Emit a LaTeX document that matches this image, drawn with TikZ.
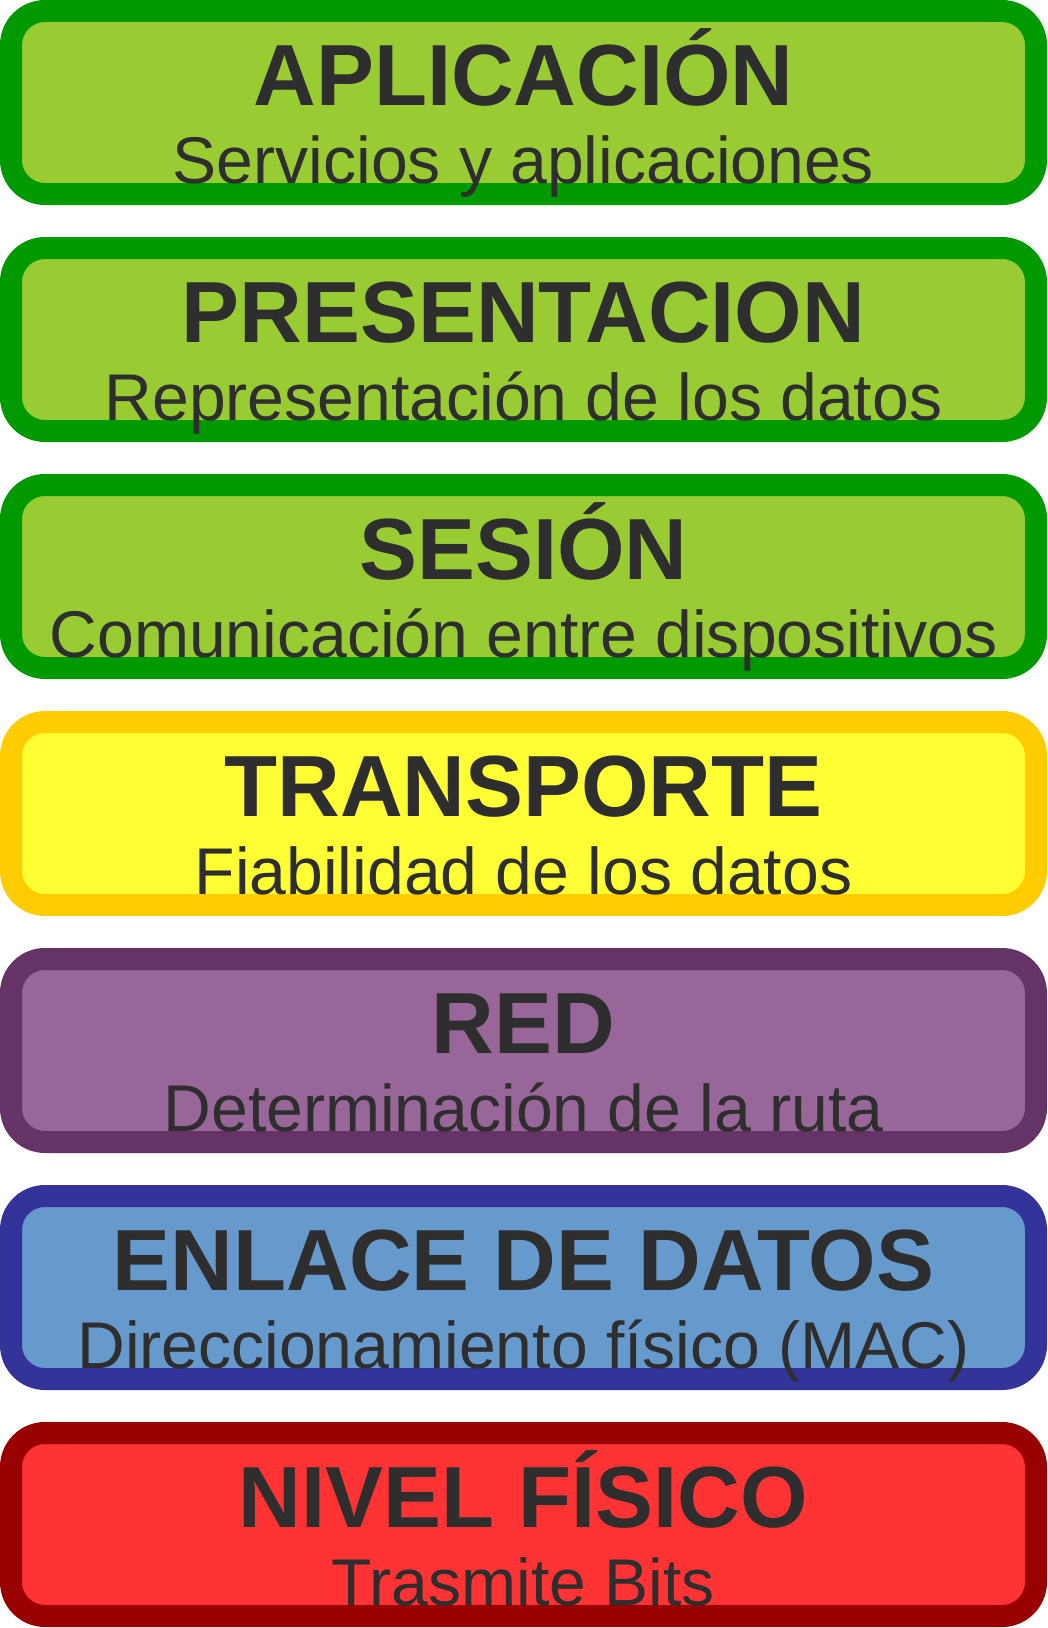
\documentclass[tikz,border=0pt]{standalone}
\usepackage{fontspec}
\setmainfont{Liberation Sans}
\usepackage{tikz}
\definecolor{verdeborde}{HTML}{009900}
\definecolor{verdefondo}{HTML}{99CC33}
\definecolor{amarilloborde}{HTML}{FFCC00}
\definecolor{amarillofondo}{HTML}{FFFF33}
\definecolor{moradoborde}{HTML}{663366}
\definecolor{moradofondo}{HTML}{996699}
\definecolor{azulborde}{HTML}{333399}
\definecolor{azulfondo}{HTML}{6699CC}
\definecolor{rojoborde}{HTML}{990000}
\definecolor{rojofondo}{HTML}{FF3333}
\definecolor{texto}{HTML}{2E2E2E}

\tikzset{
    caja/.style={rectangle, rounded corners=0.34cm, line width=0.22cm,
        minimum width=10.25cm, minimum height=1.83cm, inner sep=0pt},
    textotitulo/.style={anchor=base, inner sep=0pt, text=texto,
        font=\fontsize{24.7pt}{30pt}\selectfont\bfseries},
    textodesc/.style={anchor=base, inner sep=0pt, text=texto,
        font=\fontsize{18.8pt}{23pt}\selectfont}
}

\begin{document}
\begin{tikzpicture}
    \useasboundingbox (0cm,0cm) rectangle (10.47cm,-16.28cm);

                    \foreach \n/\borde/\fondo/\titulo/\desc in {
                        0/verdeborde/verdefondo/APLICACIÓN/Servicios y aplicaciones,
                        1/verdeborde/verdefondo/PRESENTACION/Representación de los datos,
                        2/verdeborde/verdefondo/SESIÓN/Comunicación entre dispositivos,
                        3/amarilloborde/amarillofondo/TRANSPORTE/Fiabilidad de los datos,
                        4/moradoborde/moradofondo/RED/Determinación de la ruta,
                        5/azulborde/azulfondo/ENLACE DE DATOS/Direccionamiento físico (MAC),
                        6/rojoborde/rojofondo/NIVEL FÍSICO/Trasmite Bits
                    } {
                        \node[caja, draw=\borde, fill=\fondo] (capa\n) at (5.235cm,-1.025cm - 2.37cm*\n) {};
                        \node[textotitulo] (titulo\n) at (5.235cm,-1.05cm - 2.37cm*\n) {\titulo};
                        \node[textodesc] (desc\n) at (5.235cm,-1.83cm - 2.37cm*\n) {\desc};
                    };

\end{tikzpicture}
\end{document}
